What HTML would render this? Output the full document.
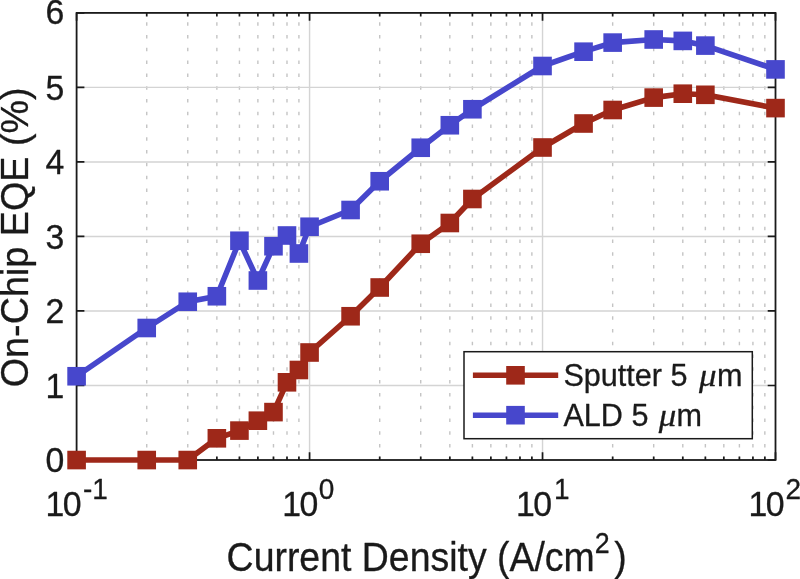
<!DOCTYPE html>
<html lang="en">
<head>
<meta charset="utf-8">
<title>On-Chip EQE vs Current Density</title>
<style>
html,body{margin:0;padding:0;background:#fff;}
body{width:800px;height:579px;overflow:hidden;position:relative;}
</style>
</head>
<body>
<svg width="800" height="579" viewBox="0 0 800 579" style="display:block;position:absolute;left:0;top:0" font-family='"Liberation Sans", sans-serif' fill="#1a1a1a" stroke="#1a1a1a" stroke-width="0.3" stroke-linejoin="round">
<rect x="0" y="0" width="800" height="579" fill="#ffffff" stroke="none"/>
<path d="M146.73 12.90V460.00M187.75 12.90V460.00M216.86 12.90V460.00M239.44 12.90V460.00M257.88 12.90V460.00M273.48 12.90V460.00M286.99 12.90V460.00M298.91 12.90V460.00M379.70 12.90V460.00M420.72 12.90V460.00M449.83 12.90V460.00M472.40 12.90V460.00M490.85 12.90V460.00M506.45 12.90V460.00M519.96 12.90V460.00M531.87 12.90V460.00M612.66 12.90V460.00M653.69 12.90V460.00M682.79 12.90V460.00M705.37 12.90V460.00M723.82 12.90V460.00M739.41 12.90V460.00M752.92 12.90V460.00M764.84 12.90V460.00" stroke="#c4c4c4" stroke-width="1.4" stroke-dasharray="3.5 9.28" stroke-dashoffset="3.4" fill="none"/>
<path d="M309.57 12.90V460.00M542.53 12.90V460.00M76.60 385.48H775.50M76.60 310.97H775.50M76.60 236.45H775.50M76.60 161.93H775.50M76.60 87.42H775.50" stroke="#d4d4d4" stroke-width="1.4" fill="none"/>
<path d="M76.60 460.00h7.8M775.50 460.00h-7.8M76.60 385.48h7.8M775.50 385.48h-7.8M76.60 310.97h7.8M775.50 310.97h-7.8M76.60 236.45h7.8M775.50 236.45h-7.8M76.60 161.93h7.8M775.50 161.93h-7.8M76.60 87.42h7.8M775.50 87.42h-7.8M76.60 12.90h7.8M775.50 12.90h-7.8M76.60 460.00v-7.8M76.60 12.90v7.8M309.57 460.00v-7.8M309.57 12.90v7.8M542.53 460.00v-7.8M542.53 12.90v7.8M775.50 460.00v-7.8M775.50 12.90v7.8M146.73 460.00v-3.5M146.73 12.90v3.5M187.75 460.00v-3.5M187.75 12.90v3.5M216.86 460.00v-3.5M216.86 12.90v3.5M239.44 460.00v-3.5M239.44 12.90v3.5M257.88 460.00v-3.5M257.88 12.90v3.5M273.48 460.00v-3.5M273.48 12.90v3.5M286.99 460.00v-3.5M286.99 12.90v3.5M298.91 460.00v-3.5M298.91 12.90v3.5M379.70 460.00v-3.5M379.70 12.90v3.5M420.72 460.00v-3.5M420.72 12.90v3.5M449.83 460.00v-3.5M449.83 12.90v3.5M472.40 460.00v-3.5M472.40 12.90v3.5M490.85 460.00v-3.5M490.85 12.90v3.5M506.45 460.00v-3.5M506.45 12.90v3.5M519.96 460.00v-3.5M519.96 12.90v3.5M531.87 460.00v-3.5M531.87 12.90v3.5M612.66 460.00v-3.5M612.66 12.90v3.5M653.69 460.00v-3.5M653.69 12.90v3.5M682.79 460.00v-3.5M682.79 12.90v3.5M705.37 460.00v-3.5M705.37 12.90v3.5M723.82 460.00v-3.5M723.82 12.90v3.5M739.41 460.00v-3.5M739.41 12.90v3.5M752.92 460.00v-3.5M752.92 12.90v3.5M764.84 460.00v-3.5M764.84 12.90v3.5" stroke="#1a1a1a" stroke-width="1.7" fill="none"/>
<rect x="76.60" y="12.90" width="698.90" height="447.10" fill="none" stroke="#1a1a1a" stroke-width="1.8" stroke-linejoin="miter"/>
<polyline points="76.60,460.05 146.73,460.05 187.75,460.05 216.86,438.30 239.44,430.60 257.88,420.70 273.48,412.10 286.99,382.30 298.91,370.00 309.57,352.50 350.59,316.25 379.70,287.50 420.72,243.75 449.83,223.00 472.40,199.00 542.53,147.50 583.56,123.50 612.66,110.00 653.69,97.60 682.79,93.70 705.37,94.80 775.50,108.10" fill="none" stroke="#9e2819" stroke-width="5.6" stroke-linejoin="round"/>
<rect x="67.30" y="450.75" width="18.6" height="18.6" fill="#9e2819" stroke="none"/>
<rect x="137.43" y="450.75" width="18.6" height="18.6" fill="#9e2819" stroke="none"/>
<rect x="178.45" y="450.75" width="18.6" height="18.6" fill="#9e2819" stroke="none"/>
<rect x="207.56" y="429.00" width="18.6" height="18.6" fill="#9e2819" stroke="none"/>
<rect x="230.14" y="421.30" width="18.6" height="18.6" fill="#9e2819" stroke="none"/>
<rect x="248.58" y="411.40" width="18.6" height="18.6" fill="#9e2819" stroke="none"/>
<rect x="264.18" y="402.80" width="18.6" height="18.6" fill="#9e2819" stroke="none"/>
<rect x="277.69" y="373.00" width="18.6" height="18.6" fill="#9e2819" stroke="none"/>
<rect x="289.61" y="360.70" width="18.6" height="18.6" fill="#9e2819" stroke="none"/>
<rect x="300.27" y="343.20" width="18.6" height="18.6" fill="#9e2819" stroke="none"/>
<rect x="341.29" y="306.95" width="18.6" height="18.6" fill="#9e2819" stroke="none"/>
<rect x="370.40" y="278.20" width="18.6" height="18.6" fill="#9e2819" stroke="none"/>
<rect x="411.42" y="234.45" width="18.6" height="18.6" fill="#9e2819" stroke="none"/>
<rect x="440.53" y="213.70" width="18.6" height="18.6" fill="#9e2819" stroke="none"/>
<rect x="463.10" y="189.70" width="18.6" height="18.6" fill="#9e2819" stroke="none"/>
<rect x="533.23" y="138.20" width="18.6" height="18.6" fill="#9e2819" stroke="none"/>
<rect x="574.26" y="114.20" width="18.6" height="18.6" fill="#9e2819" stroke="none"/>
<rect x="603.36" y="100.70" width="18.6" height="18.6" fill="#9e2819" stroke="none"/>
<rect x="644.39" y="88.30" width="18.6" height="18.6" fill="#9e2819" stroke="none"/>
<rect x="673.49" y="84.40" width="18.6" height="18.6" fill="#9e2819" stroke="none"/>
<rect x="696.07" y="85.50" width="18.6" height="18.6" fill="#9e2819" stroke="none"/>
<rect x="766.20" y="98.80" width="18.6" height="18.6" fill="#9e2819" stroke="none"/>
<polyline points="76.60,376.25 146.73,328.00 187.75,301.75 216.86,296.25 239.44,240.75 257.88,280.50 273.48,246.25 286.99,235.50 298.91,253.50 309.57,226.75 350.59,210.00 379.70,181.25 420.72,147.75 449.83,125.25 472.40,109.25 542.53,66.00 583.56,51.70 612.66,42.60 653.69,39.50 682.79,40.90 705.37,45.60 775.50,69.40" fill="none" stroke="#4747cc" stroke-width="5.6" stroke-linejoin="round"/>
<rect x="67.30" y="366.95" width="18.6" height="18.6" fill="#4747cc" stroke="none"/>
<rect x="137.43" y="318.70" width="18.6" height="18.6" fill="#4747cc" stroke="none"/>
<rect x="178.45" y="292.45" width="18.6" height="18.6" fill="#4747cc" stroke="none"/>
<rect x="207.56" y="286.95" width="18.6" height="18.6" fill="#4747cc" stroke="none"/>
<rect x="230.14" y="231.45" width="18.6" height="18.6" fill="#4747cc" stroke="none"/>
<rect x="248.58" y="271.20" width="18.6" height="18.6" fill="#4747cc" stroke="none"/>
<rect x="264.18" y="236.95" width="18.6" height="18.6" fill="#4747cc" stroke="none"/>
<rect x="277.69" y="226.20" width="18.6" height="18.6" fill="#4747cc" stroke="none"/>
<rect x="289.61" y="244.20" width="18.6" height="18.6" fill="#4747cc" stroke="none"/>
<rect x="300.27" y="217.45" width="18.6" height="18.6" fill="#4747cc" stroke="none"/>
<rect x="341.29" y="200.70" width="18.6" height="18.6" fill="#4747cc" stroke="none"/>
<rect x="370.40" y="171.95" width="18.6" height="18.6" fill="#4747cc" stroke="none"/>
<rect x="411.42" y="138.45" width="18.6" height="18.6" fill="#4747cc" stroke="none"/>
<rect x="440.53" y="115.95" width="18.6" height="18.6" fill="#4747cc" stroke="none"/>
<rect x="463.10" y="99.95" width="18.6" height="18.6" fill="#4747cc" stroke="none"/>
<rect x="533.23" y="56.70" width="18.6" height="18.6" fill="#4747cc" stroke="none"/>
<rect x="574.26" y="42.40" width="18.6" height="18.6" fill="#4747cc" stroke="none"/>
<rect x="603.36" y="33.30" width="18.6" height="18.6" fill="#4747cc" stroke="none"/>
<rect x="644.39" y="30.20" width="18.6" height="18.6" fill="#4747cc" stroke="none"/>
<rect x="673.49" y="31.60" width="18.6" height="18.6" fill="#4747cc" stroke="none"/>
<rect x="696.07" y="36.30" width="18.6" height="18.6" fill="#4747cc" stroke="none"/>
<rect x="766.20" y="60.10" width="18.6" height="18.6" fill="#4747cc" stroke="none"/>
<rect x="464.0" y="351.7" width="288.30" height="87.00" fill="#ffffff" stroke="#1a1a1a" stroke-width="1.5" stroke-linejoin="miter"/>
<path d="M472.9 375.3H558.2" stroke="#9e2819" stroke-width="5.6" fill="none"/>
<rect x="506.20" y="366.00" width="18.6" height="18.6" fill="#9e2819" stroke="none"/>
<text transform="translate(563.40 385.60)" font-size="30.6">Sputter 5</text>
<text transform="translate(699.10 385.60) scale(1.25 1.145)" font-size="28" font-family='"Liberation Serif", "DejaVu Serif", serif' font-style="italic" stroke-width="0.25">μ</text>
<text transform="translate(717.00 385.60)" font-size="30.6">m</text>
<path d="M472.9 415.2H558.2" stroke="#4747cc" stroke-width="5.6" fill="none"/>
<rect x="506.20" y="405.90" width="18.6" height="18.6" fill="#4747cc" stroke="none"/>
<text transform="translate(563.40 426.00)" font-size="30.6">ALD 5</text>
<text transform="translate(658.70 426.00) scale(1.25 1.145)" font-size="28" font-family='"Liberation Serif", "DejaVu Serif", serif' font-style="italic" stroke-width="0.25">μ</text>
<text transform="translate(676.60 426.00)" font-size="30.6">m</text>
<text transform="translate(64.20 472.10) scale(1.0 1.03)" font-size="33.8" text-anchor="end">0</text>
<text transform="translate(64.20 397.58) scale(1.0 1.03)" font-size="33.8" text-anchor="end">1</text>
<text transform="translate(64.20 323.07) scale(1.0 1.03)" font-size="33.8" text-anchor="end">2</text>
<text transform="translate(64.20 248.55) scale(1.0 1.03)" font-size="33.8" text-anchor="end">3</text>
<text transform="translate(64.20 174.03) scale(1.0 1.03)" font-size="33.8" text-anchor="end">4</text>
<text transform="translate(64.20 99.52) scale(1.0 1.03)" font-size="33.8" text-anchor="end">5</text>
<text transform="translate(64.20 24.20) scale(1.0 1.03)" font-size="33.8" text-anchor="end">6</text>
<text transform="translate(76.75 515.60) scale(1.0 1.03)" font-size="33.8" text-anchor="middle"><tspan letter-spacing="-1.5">1</tspan>0<tspan font-size="28.0" dy="-16.4" dx="1.4">-1</tspan></text>
<text transform="translate(308.32 515.60) scale(1.0 1.03)" font-size="33.8" text-anchor="middle"><tspan letter-spacing="-1.5">1</tspan>0<tspan font-size="28.0" dy="-16.4" dx="0.5">0</tspan></text>
<text transform="translate(542.78 515.60) scale(1.0 1.03)" font-size="33.8" text-anchor="middle"><tspan letter-spacing="-1.5">1</tspan>0<tspan font-size="28.0" dy="-16.4" dx="2.0">1</tspan></text>
<text transform="translate(774.75 515.60) scale(1.0 1.03)" font-size="33.8" text-anchor="middle"><tspan letter-spacing="-1.5">1</tspan>0<tspan font-size="28.0" dy="-16.4" dx="1.0">2</tspan></text>
<text transform="translate(426.60 571.00) scale(1.0 1.075)" font-size="37.45" text-anchor="middle">Current Density (A/cm<tspan font-size="26.8" dy="-16.6">2</tspan><tspan dy="16.6" dx="4.5">)</tspan></text>
<text transform="translate(27.50 237.30) rotate(-90) scale(1.0 1.035)" font-size="37.75" text-anchor="middle">On-Chip EQE (%)</text>
</svg>
</body>
</html>
